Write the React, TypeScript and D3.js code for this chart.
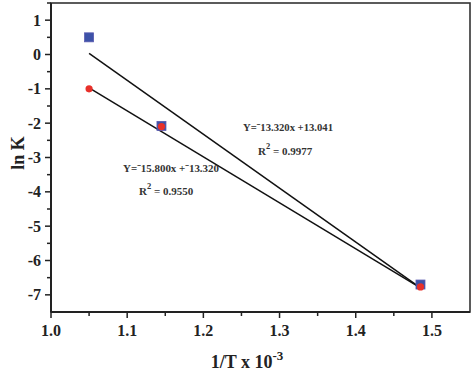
import React from "react";
import * as d3 from "d3";

const xTicks = [1.0, 1.1, 1.2, 1.3, 1.4, 1.5];
const xMinor = [1.05, 1.15, 1.25, 1.35, 1.45];
const yTicks = [1, 0, -1, -2, -3, -4, -5, -6, -7];
const yMinor = [1.5, 0.5, -0.5, -1.5, -2.5, -3.5, -4.5, -5.5, -6.5];

const blueX = [1.05, 1.145, 1.485];
const blueY = [0.5, -2.08, -6.7];
const redX = [1.05, 1.145, 1.485];
const redY = [-1.0, -2.1, -6.77];

const fitBlueX = [1.05, 1.485];
const fitBlueY = [0.03, -6.8];
const fitRedX = [1.05, 1.485];
const fitRedY = [-0.97, -6.8];

const W = 474, H = 374;
const L = 51, R = 470, T = 3, B = 312;

export default function App() {
  const x = d3.scaleLinear().domain([1.0, 1.55]).range([L, R]);
  const y = d3.scaleLinear().domain([-7.5, 1.5]).range([B, T]);
  const line = d3.line<[number, number]>().x(d => x(d[0])).y(d => y(d[1]));
  const fitB = fitBlueX.map((v, i) => [v, fitBlueY[i]] as [number, number]);
  const fitR = fitRedX.map((v, i) => [v, fitRedY[i]] as [number, number]);
  const font = "'Liberation Serif', 'Times New Roman', serif";
  return (
    <svg width={W} height={H} style={{ position: "absolute", left: 0, top: 0, background: "#fff" }} fontFamily={font}>
      <rect x={L} y={T} width={R - L} height={B - T} fill="none" stroke="#333" strokeWidth={1.6} />
      <line x1={L} x2={L} y1={T} y2={B} stroke="#222" strokeWidth={2} />
      <line x1={L} x2={R} y1={B} y2={B} stroke="#222" strokeWidth={2} />
      {xTicks.map(t => (
        <g key={"xt" + t}>
          <line x1={x(t)} x2={x(t)} y1={B} y2={B + 6} stroke="#222" strokeWidth={1.5} />
          <text x={x(t)} y={B + 24} textAnchor="middle" fontSize={16} fontWeight="bold" fill="#222">{t.toFixed(1)}</text>
        </g>
      ))}
      {xMinor.map(t => (
        <line key={"xm" + t} x1={x(t)} x2={x(t)} y1={B} y2={B + 4} stroke="#222" strokeWidth={1.5} />
      ))}
      {yTicks.map(t => (
        <g key={"yt" + t}>
          <line x1={L - 6} x2={L} y1={y(t)} y2={y(t)} stroke="#222" strokeWidth={1.5} />
          <text x={L - 10} y={y(t) + 5.5} textAnchor="end" fontSize={16} fontWeight="bold" fill="#222">{t}</text>
        </g>
      ))}
      {yMinor.map(t => (
        <line key={"ym" + t} x1={L - 4} x2={L} y1={y(t)} y2={y(t)} stroke="#222" strokeWidth={1.5} />
      ))}
      <text transform={`translate(24,${153}) rotate(-90)`} textAnchor="middle" fontSize={18} fontWeight="bold" fill="#222">ln K</text>
      <text x={247} y={368} textAnchor="middle" fontSize={18} fontWeight="bold" fill="#222">
        1/T x 10<tspan dy={-8} fontSize={13}>-3</tspan>
      </text>
      <path d={line(fitB) || ""} fill="none" stroke="#111" strokeWidth={1.5} />
      <path d={line(fitR) || ""} fill="none" stroke="#111" strokeWidth={1.5} />
      {blueX.map((v, i) => (
        <rect key={"b" + i} x={x(v) - 4.5} y={y(blueY[i]) - 4.5} width={9} height={9} fill="#3d52a8" stroke="#5a5ab0" strokeWidth={0.8} />
      ))}
      {redX.map((v, i) => (
        <circle key={"r" + i} cx={x(v)} cy={y(redY[i])} r={3.6} fill="#e8302a" />
      ))}
      <g fontSize={10.5} fontWeight="bold" fill="#333">
        <text x={243} y={131} textLength={90} lengthAdjust="spacingAndGlyphs">Y=ˉ13.320x +13.041</text>
        <text x={258} y={155} fontSize={11}>R<tspan dy={-6} fontSize={8.5}>2</tspan><tspan dy={6}> = 0.9977</tspan></text>
        <text x={123} y={172} textLength={96} lengthAdjust="spacingAndGlyphs">Y=ˉ15.800x +ˉ13.320</text>
        <text x={139} y={195} fontSize={11}>R<tspan dy={-6} fontSize={8.5}>2</tspan><tspan dy={6}> = 0.9550</tspan></text>
      </g>
    </svg>
  );
}
